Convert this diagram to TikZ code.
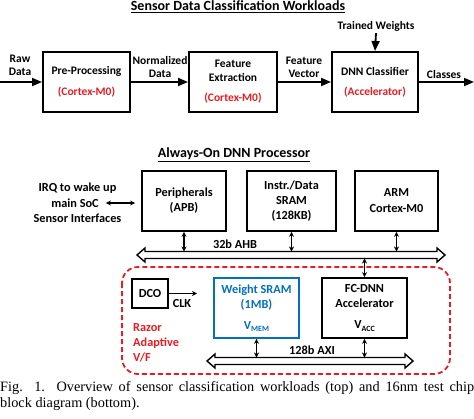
\documentclass[tikz,border=0pt]{standalone}
\usepackage{fontspec}
\setmainfont{Liberation Serif}
\newfontfamily\cbfam{Carlito}
\usetikzlibrary{arrows.meta}
\definecolor{myred}{RGB}{232,28,36}
\definecolor{myblue}{RGB}{0,112,192}
\newcommand\hbus[3]{%
\draw[bus] (#1,#3) -- (#1+8,#3-7) -- (#1+8,#3-3.5) -- (#2-8,#3-3.5) -- (#2-8,#3-7) -- (#2,#3)
 -- (#2-8,#3+7) -- (#2-8,#3+3.5) -- (#1+8,#3+3.5) -- (#1+8,#3+7) -- cycle;}
\newcommand\vsub[1]{V\raisebox{-2.5pt}{\fontsize{8}{8}\selectfont #1}}
\begin{document}
\begin{tikzpicture}[x=1pt,y=-1pt,
  every node/.style={font=\cbfam\bfseries\fontsize{11.5}{13}\selectfont, inner sep=0pt},
  botf/.style={font=\cbfam\bfseries\fontsize{12.3}{14}\selectfont},
  blk/.style={draw, line width=2pt, minimum height=60pt, align=center},
  sblk/.style={draw, line width=1.7pt, align=center, botf},
  flow/.style={line width=1.8pt, -{Triangle[length=10pt,width=8pt]}},
  bidir/.style={line width=1.2pt, {Stealth[length=5pt,width=5pt]}-{Stealth[length=5pt,width=5pt]}},
  bus/.style={line width=1.4pt, fill=white, line join=miter},
  lbl/.style={align=center},
  ttl/.style={font=\cbfam\bfseries\fontsize{14}{16}\selectfont}]
\useasboundingbox (0,0) rectangle (474,418);

% ---------- top ----------
\node[ttl] (t1) at (238,7) {\underline{Sensor Data Classification Workloads}};
\node[blk, minimum width=87pt] (pre) at (86.5,82) {Pre-Processing\\[8pt]\textcolor{myred}{(Cortex-M0)}};
\node[blk, minimum width=88pt] (fe) at (233,82) {Feature\\[1pt]Extraction\\[7pt]\textcolor{myred}{(Cortex-M0)}};
\node[blk, minimum width=86pt] (dnn) at (375,82) {DNN Classifier\\[7pt]\textcolor{myred}{(Accelerator)}};
\coordinate (rawin) at (0,82);
\coordinate (clsout) at (474,82);
\draw[flow] (rawin) -- (pre.west);
\draw[flow] (pre.east) -- (fe.west);
\draw[flow] (fe.east) -- (dnn.west);
\draw[flow] (dnn.east) -- (clsout);
\node[lbl] (raw) at (20,65.5) {Raw\\Data};
\node[lbl] (norm) at (160,67) {Normalized\\Data};
\node[lbl] (fv) at (304,67) {Feature\\Vector};
\node[lbl] (cls) at (444,75) {Classes};
\node[lbl] (tw) at (376,26) {Trained Weights};
\draw[flow] (tw.south) ++(0,2) coordinate (twb) -- (dnn.north);

% ---------- bottom ----------
\node[ttl] (t2) at (234,155) {\underline{Always-On DNN Processor}};
\node[sblk, minimum width=84pt, minimum height=60pt] (peri) at (184,201) {Peripherals\\[1pt](APB)};
\node[sblk, minimum width=89pt, minimum height=60pt] (sram) at (291.5,201) {Instr./Data\\[1pt]SRAM\\[1pt](128KB)};
\node[sblk, minimum width=83pt, minimum height=60pt] (arm) at (396.5,201) {ARM\\[2pt]Cortex-M0};
\node[botf] (irq) at (77.5,188) {IRQ to wake up};
\node[botf] (soc) at (75,203) {main SoC};
\node[botf] (sens) at (77.5,218) {Sensor Interfaces};
\draw[bidir, shorten <=7pt, shorten >=6pt] (soc.east) -- (soc.east -| peri.west);

% dashed region
\draw[myred, line width=1.8pt, dash pattern=on 5pt off 3pt, rounded corners=16pt] (122,267) rectangle (450,374);

% AHB bus
\hbus{137}{445}{255}
\coordinate (ahbtop) at (0,251.5);
\coordinate (ahbbot) at (0,258.5);
\node[botf] (ahb) at (235,244) {32b AHB};
\draw[bidir] (peri.south) -- (peri.south |- ahbtop);
\draw[bidir] (sram.south) -- (sram.south |- ahbtop);
\draw[bidir] (arm.south) -- (arm.south |- ahbtop);

\node[sblk, minimum width=36pt, minimum height=29pt] (dco) at (150,293.5) {DCO};
\coordinate (clkend) at (197,293.5);
\draw[line width=1.5pt, -{Stealth[length=5pt,width=5pt]}] (dco.east) -- (clkend);
\node[botf] (clk) at (182,304) {CLK};
\node[sblk, draw=myblue, text=myblue, minimum width=85pt, minimum height=60pt] (wsram) at (256.5,308) {Weight SRAM\\[1pt](1MB)\\[7pt]\vsub{MEM}};
\node[sblk, minimum width=85pt, minimum height=60pt] (fc) at (364.5,308) {FC-DNN\\[1pt]Accelerator\\[7pt]\vsub{ACC}};
\node[botf, anchor=west, align=left, text=myred] (razor) at (133,343) {Razor\\[1pt]Adaptive\\[1pt]V/F};
\draw[bidir] (fc.north) -- (fc.north |- ahbbot);

% AXI bus
\hbus{207}{413}{361}
\coordinate (axitop) at (0,357.5);
\node[botf] (axi) at (312,350) {128b AXI};
\draw[bidir] (wsram.south) -- (wsram.south |- axitop);
\draw[bidir] (fc.south) -- (fc.south |- axitop);

% caption
\node[anchor=north west, text width=474pt, align=justify, font=\rmfamily\fontsize{14.3}{16}\selectfont] (cap) at (0,381)
 {Fig. 1. Overview of sensor classification workloads (top) and 16nm test chip\linebreak block diagram (bottom).};
\end{tikzpicture}
\end{document}
